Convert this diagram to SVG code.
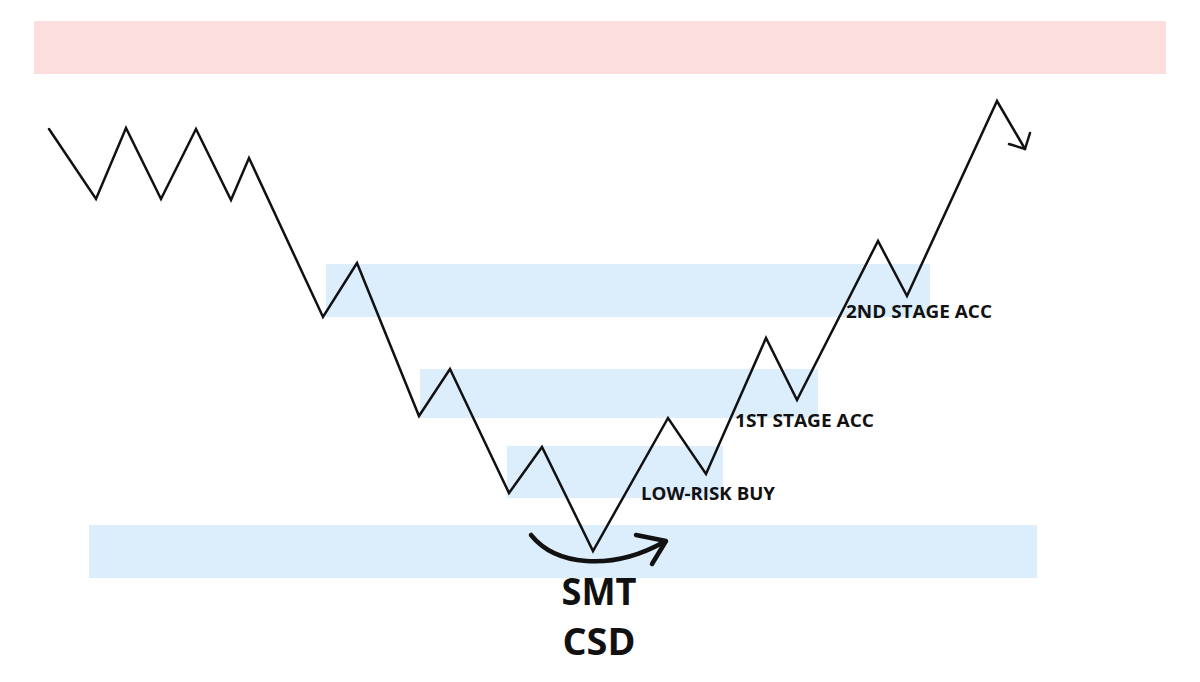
<svg xmlns="http://www.w3.org/2000/svg" width="1200" height="682" viewBox="0 0 1200 682">
<defs>
<style>
.zone{fill:#dcedfc}
.price{fill:none;stroke:#111;stroke-width:2.5;stroke-linejoin:miter;stroke-linecap:round}
.lbl{font-family:"Open Sans","Liberation Sans",sans-serif;font-weight:700;font-size:17.5px;fill:#111}
.big{font-family:"Open Sans","Liberation Sans",sans-serif;font-weight:700;font-size:37px;fill:#111;text-anchor:middle}
</style>
</defs>
<rect width="1200" height="682" fill="#fff"/>
<g id="supply-zone"><rect x="34" y="21" width="1132" height="53" fill="#fcdede"/></g>
<g id="zone-2nd"><rect class="zone" x="326" y="264" width="604" height="53"/></g>
<g id="zone-1st"><rect class="zone" x="420" y="369" width="398" height="49"/></g>
<g id="zone-lowrisk"><rect class="zone" x="507" y="446" width="216" height="52"/></g>
<g id="zone-bottom"><rect class="zone" x="89" y="525" width="948" height="53"/></g>
<g id="connectors">
<polyline class="price" points="49,129 96,199 126,128 161,199 196,129 231,200 249,158 323,317 357,263 419,416 450,369 509,493 542,447 593,551 668,418 706,474 766,338 797,400 878,241 907,296 997,101 1025,149"/>
<polyline class="price" points="1009,144 1025,149 1030,133"/>
<path d="M531,535 C555,565 610,572 664,542" fill="none" stroke="#111" stroke-width="4.5" stroke-linecap="round"/>
<polyline points="636,535 666,541 652,564" fill="none" stroke="#111" stroke-width="4.5" stroke-linecap="round" stroke-linejoin="round"/>
</g>
<g id="label-2nd"><text class="lbl" x="846" y="318" textLength="146" lengthAdjust="spacingAndGlyphs">2ND STAGE ACC</text></g>
<g id="label-1st"><text class="lbl" x="735" y="427" textLength="139" lengthAdjust="spacingAndGlyphs">1ST STAGE ACC</text></g>
<g id="label-lowrisk"><text class="lbl" x="641" y="500" textLength="134" lengthAdjust="spacingAndGlyphs">LOW-RISK BUY</text></g>
<g id="label-smt"><text class="big" x="599" y="605" textLength="75" lengthAdjust="spacingAndGlyphs">SMT</text><text class="big" x="599" y="655" textLength="73" lengthAdjust="spacingAndGlyphs">CSD</text></g>
</svg>
